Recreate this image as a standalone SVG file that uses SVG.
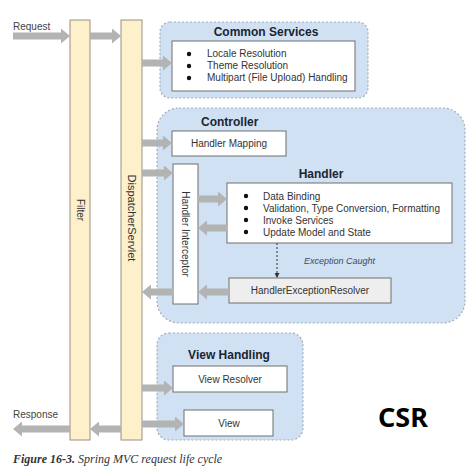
<svg xmlns="http://www.w3.org/2000/svg" width="474" height="474" viewBox="0 0 474 474">
<defs>
<marker id="ah" markerUnits="userSpaceOnUse" markerWidth="9" markerHeight="15" refX="0" refY="7.5" orient="auto" viewBox="0 0 9 15">
<path d="M0,0 L9,7.5 L0,15 Z" fill="#b3b3b3"/>
</marker>
<marker id="sh" markerUnits="userSpaceOnUse" markerWidth="5" markerHeight="5" refX="4" refY="2.5" orient="auto" viewBox="0 0 5 5">
<path d="M0,0 L5,2.5 L0,5 Z" fill="#333"/>
</marker>
</defs>
<style>
.bar{fill:#fdf0cb;stroke:#9a9080;stroke-width:1}
.grp{fill:#d0e1f4;stroke:#a3adb8;stroke-width:1.2;stroke-dasharray:2,2}
.box{fill:#ffffff;stroke:#6f6f6f;stroke-width:1}
.gbox{fill:#eeeeee;stroke:#6f6f6f;stroke-width:1}
.t{font-family:"Liberation Sans",Arial,sans-serif;font-size:10px;fill:#333}
.tc{text-anchor:middle}
.h{font-family:"Liberation Sans",Arial,sans-serif;font-size:12px;font-weight:bold;fill:#1c2430}
.lbl{font-family:"Liberation Sans",Arial,sans-serif;font-size:10px;fill:#444}
.ar{stroke:#b3b3b3;stroke-width:7;fill:none;marker-end:url(#ah)}
</style>
<rect width="474" height="474" fill="#ffffff"/>

<g id="filter">
<rect class="bar" x="70" y="20" width="20" height="420"/>
<text class="t tc" transform="translate(77,210) rotate(90)" font-size="11">Filter</text>
</g>
<g id="dispatcher">
<rect class="bar" x="121" y="20" width="21" height="420"/>
<text class="t tc" transform="translate(128,218) rotate(90)" style="font-size:11px">DispatcherServlet</text>
</g>

<g id="common-services">
<rect class="grp" x="160" y="22" width="208" height="76" rx="10"/>
<text class="h tc" x="266" y="36">Common Services</text>
<rect class="box" x="172" y="41" width="183" height="50"/>
<circle cx="189" cy="54" r="2.2" fill="#111"/>
<circle cx="189" cy="66" r="2.2" fill="#111"/>
<circle cx="189" cy="78" r="2.2" fill="#111"/>
<text class="t" x="207" y="57">Locale Resolution</text>
<text class="t" x="207" y="69">Theme Resolution</text>
<text class="t" x="207" y="81">Multipart (File Upload) Handling</text>
</g>

<g id="controller">
<rect class="grp" x="157" y="108" width="308" height="215" rx="22"/>
<text class="h" x="201" y="126">Controller</text>
</g>
<g id="handler-mapping">
<rect class="box" x="172" y="131" width="114" height="25"/>
<text class="t tc" x="229" y="147">Handler Mapping</text>
</g>
<g id="handler-interceptor">
<rect class="box" x="173" y="164" width="25" height="140"/>
<text class="t tc" transform="translate(182,234) rotate(90)">Handler Interceptor</text>
</g>
<g id="handler">
<text class="h tc" x="321" y="178">Handler</text>
<rect class="box" x="227" y="183" width="225" height="60"/>
<circle cx="246" cy="196" r="2.2" fill="#111"/>
<circle cx="246" cy="208" r="2.2" fill="#111"/>
<circle cx="246" cy="220" r="2.2" fill="#111"/>
<circle cx="246" cy="232" r="2.2" fill="#111"/>
<text class="t" x="263" y="199.5">Data Binding</text>
<text class="t" x="263" y="211.5">Validation, Type Conversion, Formatting</text>
<text class="t" x="263" y="223.5">Invoke Services</text>
<text class="t" x="263" y="235.5">Update Model and State</text>
</g>
<g id="handler-exception-resolver">
<rect class="gbox" x="229" y="278" width="162" height="25"/>
<text class="t tc" x="310" y="294">HandlerExceptionResolver</text>
</g>

<g id="view-handling">
<rect class="grp" x="157" y="333" width="146" height="107" rx="12"/>
<text class="h tc" x="229" y="359">View Handling</text>
</g>
<g id="view-resolver">
<rect class="box" x="173" y="366" width="114" height="26"/>
<text class="t tc" x="230" y="383">View Resolver</text>
</g>
<g id="view">
<rect class="box" x="184" y="410" width="89" height="26"/>
<text class="t tc" x="229" y="427">View</text>
</g>

<g id="connectors">
<line class="ar" x1="13" y1="36" x2="61" y2="36"/>
<line class="ar" x1="90" y1="36" x2="112" y2="36"/>
<line class="ar" x1="142" y1="63" x2="163" y2="63"/>
<line class="ar" x1="142" y1="143" x2="163" y2="143"/>
<line class="ar" x1="142" y1="173" x2="164" y2="173"/>
<line class="ar" x1="198" y1="199" x2="218" y2="199"/>
<line class="ar" x1="227" y1="228" x2="207" y2="228"/>
<line class="ar" x1="229" y1="292" x2="207" y2="292"/>
<line class="ar" x1="173" y1="292" x2="151" y2="292"/>
<line class="ar" x1="142" y1="388" x2="164" y2="388"/>
<line class="ar" x1="142" y1="424" x2="175" y2="424"/>
<line class="ar" x1="121" y1="429" x2="99" y2="429"/>
<line class="ar" x1="70" y1="429" x2="22" y2="429"/>
<line x1="277" y1="243" x2="277" y2="277" stroke="#333" stroke-width="1" stroke-dasharray="2,2" marker-end="url(#sh)"/>
<text class="lbl" x="304" y="264" style="font-style:italic;font-size:9px;fill:#3b4b5e">Exception Caught</text>
<text class="lbl" x="13" y="30" style="fill:#444">Request</text>
<text class="lbl" x="13" y="418" style="fill:#444">Response</text>
</g>

<text x="13" y="463" font-family="'Liberation Serif',serif" font-size="12" font-style="italic" fill="#333"><tspan font-weight="bold">Figure 16-3.</tspan>  Spring MVC request life cycle</text>
<text x="403" y="427" text-anchor="middle" font-family="'Noto Sans',sans-serif" font-size="27" font-weight="bold" fill="#000">CSR</text>
</svg>
